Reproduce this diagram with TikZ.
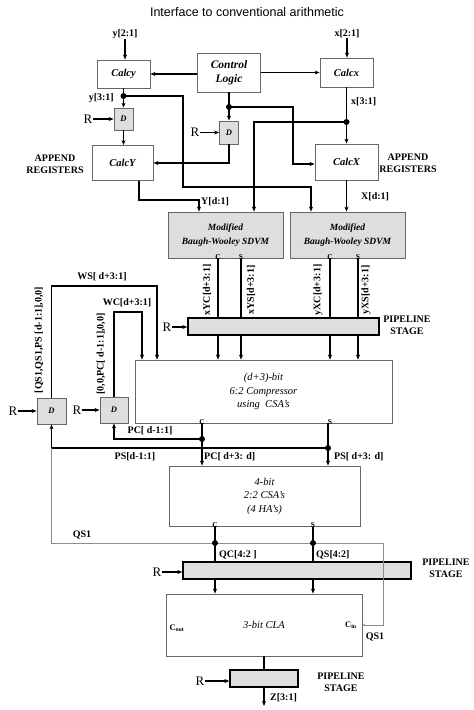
\documentclass[tikz,border=0pt]{standalone}
\usepackage{fontspec}
\setmainfont{Liberation Serif}
\newfontfamily\titlefont{Liberation Sans}
\usetikzlibrary{arrows.meta}

\begin{document}
\begin{tikzpicture}[x=1pt, y=-1pt,
  >={Stealth[length=5pt,width=4pt]},
  wire/.style={line width=1.2pt},
  heavywire/.style={line width=1.9pt},
  qsline/.style={line width=0.8pt, draw=black!45},
  block/.style={draw=black!60, line width=0.8pt, inner sep=0pt, align=center,
    font=\fontsize{10.5}{12}\selectfont\bfseries\itshape},
  unit/.style={block, font=\fontsize{10.5}{13.5}\selectfont\itshape},
  greyblock/.style={block, fill=black!13},
  dff/.style={greyblock, minimum width=19pt, minimum height=22pt,
    font=\fontsize{8.5}{9}\selectfont\bfseries\itshape},
  pipe/.style={draw, line width=1.3pt, fill=black!13, inner sep=0pt},
  lbl/.style={inner sep=0pt, align=center, font=\fontsize{10}{12}\selectfont\bfseries},
  rin/.style={inner sep=0pt, font=\fontsize{13}{13}\selectfont},
  portlbl/.style={inner sep=0pt, font=\fontsize{7.5}{8}\selectfont\bfseries},
  jdot/.style={fill, circle, inner sep=0pt, minimum size=6pt}]
  \useasboundingbox (0,0) rectangle (474,710);
  \node[font=\titlefont\fontsize{12.5}{14}\selectfont] (title) at (247,12) {Interface to conventional arithmetic};

  % input stage
  \node[block, minimum width=53pt, minimum height=28pt] (calcy) at (123.5,74) {Calcy};
  \node[block, minimum width=63pt, minimum height=39pt,
    font=\fontsize{11.5}{14}\selectfont\bfseries\itshape] (ctrl) at (229,72.5) {Control\\Logic};
  \node[block, minimum width=53pt, minimum height=29pt] (calcx) at (346.5,72.5) {Calcx};
  \node[lbl] (yin) at (125,34) {y[2:1]};
  \node[lbl] (xin) at (347,34) {x[2:1]};
  \draw[wire,->] (yin.south) -- (yin |- calcy.north);
  \draw[wire,->] (xin.south) -- (xin |- calcx.north);
  \draw[wire,->] (ctrl.west |- calcy) -- (calcy.east);
  \draw[wire,->] (ctrl.east |- calcx) -- (calcx.west);

  \node[dff] (dy) at (123.5,119) {D};
  \node[dff, minimum height=23pt] (dc) at (229,132.5) {D};
  \node[rin] (ry) at (88,119) {R};
  \node[rin] (rc) at (195,132.5) {R};
  \draw[wire,->] (ry.east) -- (ry.east -| dy.west);
  \draw[wire,->] (rc.east) -- (rc.east -| dc.west);

  \node[block, minimum width=61pt, minimum height=35pt] (calcY) at (122.5,163) {CalcY};
  \node[block, minimum width=63pt, minimum height=36pt] (calcX) at (346.5,162) {CalcX};
  \node[lbl] (appy) at (55,164) {APPEND\\REGISTERS};
  \node[lbl] (appx) at (408,163) {APPEND\\REGISTERS};

  \coordinate (ydot) at (123.5,96);
  \coordinate (cdot) at (229,107);
  \coordinate (xdot) at (346.5,122);
  \coordinate (xbend) at (293,107);
  \coordinate (xleft) at (254,122);
  \coordinate (ybend) at (183,187);
  \coordinate (ybus) at (199,200);
  \node[lbl, anchor=east] (ly3) at (114,98) {y[3:1]};
  \node[lbl, anchor=west] (lx3) at (351,102) {x[3:1]};

  \draw[wire] (calcy.south) -- (ydot);
  \draw[wire,->] (ydot) -- (dy.north);
  \draw[wire,->] (dy.south) -- (dy.south |- calcY.north);
  \draw[wire] (ctrl.south) -- (cdot);
  \draw[wire,->] (cdot) -- (dc.north);
  \draw[wire,->] (dc.south) |- (calcY.east);
  \draw[wire,->] (cdot) -- (xbend) |- ([yshift=-2pt]calcX.west);
  \draw[wire] (calcx.south) -- (xdot);
  \draw[wire,->] (xdot) -- (calcX.north);

  % multipliers
  \node[greyblock, minimum width=115pt, minimum height=46pt,
    font=\fontsize{9.5}{14}\selectfont\bfseries\itshape] (sdvmL) at (225.5,235) {Modified\\Baugh-Wooley SDVM};
  \node[greyblock, minimum width=115pt, minimum height=46pt,
    font=\fontsize{9.5}{14}\selectfont\bfseries\itshape] (sdvmR) at (347.5,235) {Modified\\Baugh-Wooley SDVM};
  \draw[wire,->] (xdot) -- (xleft) -- (xleft |- sdvmL.north);
  \draw[wire,->] (ydot) -| (ybend) -| ([xshift=-36.5pt]sdvmR.north);
  \draw[wire,->] ([xshift=16.5pt]calcY.south) |- (ybus) -- (ybus |- sdvmL.north);
  \draw[wire,->] (calcX.south) -- (calcX.south |- sdvmR.north);
  \node[lbl, anchor=west] (lyd) at (201,202) {Y[d:1]};
  \node[lbl, anchor=west] (lxd) at (361,197) {X[d:1]};

  \node[pipe, minimum width=191pt, minimum height=17pt] (pipe1) at (283.5,326.5) {};
  \node[rin] (r1) at (167,327) {R};
  \draw[wire,->] (r1.east) -- (r1.east -| pipe1.west);
  \node[lbl] (ps1) at (407,325.5) {PIPELINE\\STAGE};

  \node[unit, minimum width=257pt, minimum height=63pt] (comp) at (263.5,391.5) {(d+3)-bit\\6:2 Compressor\\using\ \ CSA's};

  \foreach \x/\s/\c/\txt/\dx [count=\i] in {218/sdvmL/C/xYC/-11, 241/sdvmL/S/xYS/10,
      330/sdvmR/C/yXC/-12, 358/sdvmR/S/yXS/8} {
    \coordinate (col\i) at (\x,0);
    \node[portlbl, anchor=south] (port\i) at ([yshift=-1pt]col\i |- \s.south) {\c};
    \draw[wire] (col\i |- \s.south) -- (col\i |- pipe1.north);
    \draw[wire,->] (col\i |- pipe1.south) -- (col\i |- comp.north);
    \node[lbl, rotate=90] (lcol\i) at (\x+\dx,290) {\txt[d+3:1]};
  }

  % feedback registers
  \node[dff, minimum width=29pt, minimum height=26pt] (d3) at (51.5,411) {D};
  \node[dff, minimum width=28pt, minimum height=26pt] (d4) at (114,410) {D};
  \node[rin] (r3) at (13,411) {R};
  \node[rin] (r4) at (77,410) {R};
  \draw[wire,->] (r3.east) -- (r3.east -| d3.west);
  \draw[wire,->] (r4.east) -- (r4.east -| d4.west);
  \coordinate (wsb) at (157,286);
  \coordinate (wcb) at (142,312);
  \draw[wire,->] (d3.north) |- (wsb) -- (wsb |- comp.north);
  \draw[wire,->] (d4.north) |- (wcb) -- (wcb |- comp.north);
  \node[lbl] (lws) at (102,277) {WS[ d+3:1]};
  \node[lbl] (lwc) at (127,303) {WC[d+3:1]};
  \node[lbl, rotate=90] (lqs) at (39,340) {[QS1,QS1,PS [d-1:1],0,0]};
  \node[lbl, rotate=90] (lpc) at (101,354) {[0,0,PC[ d-1:1],0,0]};

  \node[unit, minimum width=191pt, minimum height=60pt] (csa) at (264.5,496) {4-bit\\2:2 CSA's\\(4 HA's)};
  \coordinate (pcdot) at (202,439);
  \coordinate (psdot) at (328,448);
  \node[portlbl, anchor=south] (compc) at ([yshift=-1pt]pcdot |- comp.south) {C};
  \node[portlbl, anchor=south] (comps) at ([xshift=2pt,yshift=-1pt]psdot |- comp.south) {S};
  \draw[heavywire] (pcdot |- comp.south) -- (pcdot);
  \draw[heavywire] (psdot |- comp.south) -- (psdot);
  \draw[wire,->] (pcdot) -- (pcdot |- csa.north);
  \draw[wire,->] (psdot) -- (psdot |- csa.north);
  \draw[wire,->] (pcdot) -| (d4.south);
  \draw[wire,->] (psdot) -| (d3.south);
  \node[lbl] (lpc1) at (150,431) {PC[ d-1:1]};
  \node[lbl] (lps1) at (135,457) {PS[d-1:1]};
  \node[lbl, anchor=west] (lpc2) at (204,457) {PC[ d+3: d]};
  \node[lbl, anchor=west] (lps2) at (334,457) {PS[ d+3: d]};

  % final adder
  \node[pipe, minimum width=228pt, minimum height=17pt] (pipe2) at (297,570.5) {};
  \node[rin] (r2) at (157,572) {R};
  \draw[wire,->] (r2.east) -- (r2.east -| pipe2.west);
  \node[lbl] (ps2) at (446,568) {PIPELINE\\STAGE};
  \node[unit, minimum width=196pt, minimum height=62pt] (cla) at (264,625) {3-bit CLA};
  \node[lbl, font=\fontsize{8.5}{9}\selectfont\bfseries] (cout) at (177,628) {C\textsubscript{out}};
  \node[lbl, font=\fontsize{8.5}{9}\selectfont\bfseries] (cin) at (351,625) {C\textsubscript{in}};

  \coordinate (qsl) at (51.5,543);
  \coordinate (qsr) at (383,543);
  \coordinate (qcdot) at (215,543);
  \coordinate (qsdot) at (313,543);
  \draw[qsline,-{Stealth[length=3pt,width=2.5pt]}] (d3.south |- psdot) -- (qsl) -- (qsr) |- (cla.east);
  \node[portlbl, anchor=south] (csac) at ([yshift=-1pt]qcdot |- csa.south) {C};
  \node[portlbl, anchor=south] (csas) at ([yshift=-1pt]qsdot |- csa.south) {S};
  \draw[heavywire] (qcdot |- csa.south) -- (qcdot |- pipe2.north);
  \draw[heavywire] (qsdot |- csa.south) -- (qsdot |- pipe2.north);
  \draw[wire,->] (qcdot |- pipe2.south) -- (qcdot |- cla.north);
  \draw[wire,->] (qsdot |- pipe2.south) -- (qsdot |- cla.north);
  \node[lbl] (lqs1) at (82,535) {QS1};
  \node[lbl] (lqs2) at (375,637) {QS1};
  \node[lbl, anchor=west] (lqc) at (219,555) {QC[4:2 ]};
  \node[lbl, anchor=west] (lqs3) at (316,555) {QS[4:2]};

  \node[pipe, minimum width=68pt, minimum height=17pt] (pipe3) at (264,678.5) {};
  \node[rin] (r5) at (200,681) {R};
  \draw[wire,->] (r5.east) -- (r5.east -| pipe3.west);
  \node[lbl] (ps3) at (341,682) {PIPELINE\\STAGE};
  \coordinate (zout) at (264,706);
  \draw[wire] (cla.south) -- (pipe3.north);
  \draw[wire,->] (pipe3.south) -- (zout);
  \node[lbl, anchor=west] (lz) at (270,698) {Z[3:1]};

  \foreach \p in {ydot, cdot, xdot, pcdot, psdot, qcdot, qsdot}
    \node[jdot] at (\p) {};
\end{tikzpicture}
\end{document}
